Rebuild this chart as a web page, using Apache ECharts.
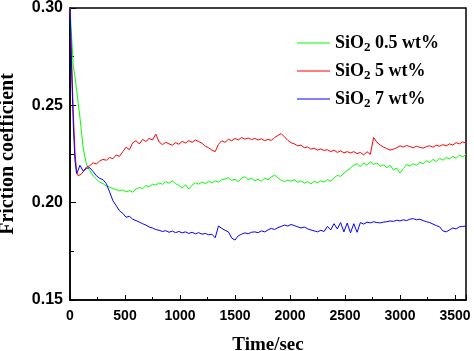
<!DOCTYPE html>
<html>
<head>
<meta charset="utf-8">
<script src="https://cdn.jsdelivr.net/npm/echarts@6/dist/echarts.min.js"></script>
<style>
  html, body { margin: 0; padding: 0; background: #fff; }
  #chart { width: 474px; height: 351px; }
</style>
</head>
<body>
<div id="chart"></div>
<script>
(function () {

    // sampling times (s)
    var times = [0, 15, 30, 45, 60, 75, 90, 105, 120, 150,
        180, 210, 240, 270, 300, 330, 360, 390, 420, 450,
        480, 510, 540, 570, 600, 630, 660, 690, 720, 750,
        780, 810, 840, 870, 900, 930, 960, 990, 1020, 1050,
        1080, 1110, 1140, 1170, 1200, 1230, 1260, 1290, 1320, 1350,
        1380, 1410, 1440, 1470, 1500, 1530, 1560, 1590, 1620, 1650,
        1680, 1710, 1740, 1770, 1800, 1830, 1860, 1890, 1920, 1950,
        1980, 2010, 2040, 2070, 2100, 2130, 2160, 2190, 2220, 2250,
        2280, 2310, 2340, 2370, 2400, 2430, 2460, 2490, 2520, 2550,
        2580, 2610, 2640, 2670, 2700, 2730, 2760, 2790, 2820, 2850,
        2880, 2910, 2940, 2970, 3000, 3030, 3060, 3090, 3120, 3150,
        3180, 3210, 3240, 3270, 3300, 3330, 3360, 3390, 3420, 3450,
        3480, 3510, 3540, 3570, 3600];

    var names = ['SiO2 0.5 wt%', 'SiO2 5 wt%', 'SiO2 7 wt%'];
    var colors = ['#00ff00', '#ff0000', '#0000ff'];

    var green = [0.300, 0.285, 0.270, 0.2647, 0.258, 0.251, 0.244, 0.236, 0.228, 0.2195,
        0.2165, 0.2138, 0.2122, 0.2105, 0.2098, 0.2085, 0.2080, 0.2072, 0.2068, 0.2060,
        0.2066, 0.2055, 0.2062, 0.2054, 0.2070, 0.2078, 0.2072, 0.2088, 0.2082, 0.2095,
        0.2090, 0.2102, 0.2094, 0.2108, 0.2100, 0.2112, 0.2098, 0.2088, 0.2075, 0.2092,
        0.2070, 0.2090, 0.2102, 0.2095, 0.2106, 0.2098, 0.2110, 0.2102, 0.2112, 0.2105,
        0.2118, 0.2122, 0.2128, 0.2115, 0.2120, 0.2108, 0.2125, 0.2134, 0.2118, 0.2126,
        0.2112, 0.2120, 0.2110, 0.2126, 0.2118, 0.2132, 0.2142, 0.2128, 0.2115, 0.2108,
        0.2116, 0.2110, 0.2118, 0.2104, 0.2112, 0.2100, 0.2108, 0.2096, 0.2110, 0.2102,
        0.2112, 0.2106, 0.2118, 0.2110, 0.2128, 0.2140, 0.2135, 0.2152, 0.2165, 0.2178,
        0.2192, 0.2200, 0.2185, 0.2205, 0.2192, 0.2210, 0.2196, 0.2204, 0.2186, 0.2195,
        0.2180, 0.2192, 0.2168, 0.2178, 0.2152, 0.2175, 0.2195, 0.2188, 0.2200, 0.2192,
        0.2208, 0.2200, 0.2215, 0.2206, 0.2222, 0.2212, 0.2228, 0.2218, 0.2232, 0.2225,
        0.2238, 0.2228, 0.2245, 0.2235, 0.2250];

    var red = [0.300, 0.272, 0.246, 0.226, 0.216, 0.2138, 0.2132, 0.2148, 0.2160, 0.2183,
        0.2190, 0.2205, 0.2198, 0.2215, 0.2222, 0.2218, 0.2232, 0.2226, 0.2245, 0.2238,
        0.2262, 0.2285, 0.2272, 0.2308, 0.2318, 0.2302, 0.2325, 0.2314, 0.2330, 0.2322,
        0.2352, 0.2312, 0.2298, 0.2310, 0.2302, 0.2295, 0.2308, 0.2300, 0.2315, 0.2306,
        0.2318, 0.2310, 0.2322, 0.2314, 0.2305, 0.2290, 0.2282, 0.2270, 0.2262, 0.2300,
        0.2318, 0.2310, 0.2326, 0.2318, 0.2330, 0.2322, 0.2335, 0.2326, 0.2332, 0.2324,
        0.2330, 0.2322, 0.2328, 0.2318, 0.2325, 0.2320, 0.2335, 0.2345, 0.2355, 0.2338,
        0.2320, 0.2308, 0.2302, 0.2292, 0.2296, 0.2282, 0.2286, 0.2275, 0.2280, 0.2270,
        0.2276, 0.2268, 0.2272, 0.2262, 0.2270, 0.2258, 0.2266, 0.2256, 0.2262, 0.2255,
        0.2262, 0.2252, 0.2258, 0.2245, 0.2262, 0.2248, 0.2335, 0.2310, 0.2296, 0.2285,
        0.2278, 0.2270, 0.2275, 0.2282, 0.2292, 0.2286, 0.2294, 0.2288, 0.2282, 0.2290,
        0.2284, 0.2280, 0.2288, 0.2292, 0.2285, 0.2295, 0.2290, 0.2298, 0.2292, 0.2302,
        0.2296, 0.2308, 0.2302, 0.2312, 0.2306];

    var blue = [0.300, 0.268, 0.240, 0.222, 0.2150, 0.2168, 0.2192, 0.2182, 0.2162, 0.2176,
        0.2180, 0.2160, 0.2138, 0.2125, 0.2118, 0.2098, 0.2055, 0.2010, 0.1985, 0.1958,
        0.1945, 0.1925, 0.1930, 0.1915, 0.1908, 0.1900, 0.1892, 0.1885, 0.1875, 0.1870,
        0.1862, 0.1858, 0.1852, 0.1856, 0.1848, 0.1854, 0.1846, 0.1852, 0.1845, 0.1850,
        0.1842, 0.1848, 0.1840, 0.1846, 0.1838, 0.1842, 0.1835, 0.1838, 0.1820, 0.1880,
        0.1868, 0.1858, 0.1850, 0.1818, 0.1808, 0.1830, 0.1838, 0.1845, 0.1840, 0.1848,
        0.1850, 0.1846, 0.1855, 0.1850, 0.1860, 0.1868, 0.1862, 0.1872, 0.1878, 0.1885,
        0.1880, 0.1888, 0.1882, 0.1876, 0.1870, 0.1875, 0.1866, 0.1860, 0.1855, 0.1850,
        0.1858, 0.1852, 0.1878, 0.1860, 0.1892, 0.1865, 0.1898, 0.1850, 0.1895, 0.1845,
        0.1892, 0.1848, 0.1898, 0.1890, 0.1900, 0.1896, 0.1902, 0.1898, 0.1896, 0.1900,
        0.1902, 0.1906, 0.1904, 0.1910, 0.1906, 0.1912, 0.1908, 0.1915, 0.1918, 0.1912,
        0.1915, 0.1908, 0.1902, 0.1898, 0.1890, 0.1882, 0.1876, 0.1855, 0.1850, 0.1860,
        0.1870, 0.1865, 0.1876, 0.1878, 0.1880];

    var seriesValues = [green, red, blue];

    var myChart = echarts.init(document.getElementById('chart'));

    var series = [];
    for (var i = 0; i < names.length; i++) {
        var pts = [];
        for (var j = 0; j < times.length; j++) {
            pts.push([times[j], seriesValues[i][j]]);
        }
        series.push({
            name: names[i],
            type: 'line',
            symbol: 'none',
            lineStyle: { color: colors[i], width: 1 },
            itemStyle: { color: colors[i] },
            data: pts
        });
    }

    var numFont = { fontFamily: 'Liberation Sans, Arial', fontWeight: 'bold', color: '#000' };
    var serif = 'Liberation Serif, Times New Roman';

    var option = {
        animation: false,
        backgroundColor: '#fff',
        grid: {
            left: 70, top: 8, right: 8, bottom: 51,
            outerBoundsMode: 'none',
            containLabel: false,
            show: true, borderColor: '#000', borderWidth: 1.5
        },
        legend: {
            orient: 'vertical',
            left: 297,
            top: 32,
            padding: 0,
            icon: 'rect',
            itemWidth: 33,
            itemHeight: 1,
            itemGap: 6,
            data: names,
            formatter: function (name) {
                return '{a|SiO}{s|2}{a|' + name.slice(4) + '}';
            },
            textStyle: {
                rich: {
                    a: { fontFamily: serif, fontWeight: 'bold', fontSize: 18, color: '#000', lineHeight: 20 },
                    s: { fontFamily: serif, fontWeight: 'bold', fontSize: 13, color: '#000', lineHeight: 20, padding: [9, 0, 0, 0] }
                }
            }
        },
        xAxis: {
            type: 'value',
            min: 0, max: 3600, interval: 500,
            name: 'Time/sec',
            nameLocation: 'middle',
            nameGap: 36,
            nameTextStyle: { fontFamily: serif, fontWeight: 'bold', fontSize: 19, color: '#000' },
            axisLine: { lineStyle: { color: '#000', width: 1.5 } },
            axisTick: { inside: true, length: 5, lineStyle: { color: '#000', width: 1 } },
            minorTick: { show: true, splitNumber: 2, length: 3, lineStyle: { color: '#000', width: 1 } },
            axisLabel: Object.assign({
                fontSize: 14, margin: 9, showMaxLabel: false,
                formatter: function (v) { return String(v); }
            }, numFont),
            splitLine: { show: false }
        },
        yAxis: {
            type: 'value',
            min: 0.15, max: 0.30, interval: 0.05,
            name: 'Friction coefficient',
            nameLocation: 'middle',
            nameGap: 52,
            nameTextStyle: { fontFamily: serif, fontWeight: 'bold', fontSize: 20, color: '#000' },
            axisLine: { lineStyle: { color: '#000', width: 1.5 } },
            axisTick: { inside: true, length: 6, lineStyle: { color: '#000', width: 1 } },
            minorTick: { show: true, splitNumber: 2, length: 4, lineStyle: { color: '#000', width: 1 } },
            axisLabel: Object.assign({
                fontSize: 16, margin: 7,
                formatter: function (v) { return v.toFixed(2); }
            }, numFont),
            splitLine: { show: false }
        },
        series: series
    };

    myChart.setOption(option);

}());
</script>
</body>
</html>
